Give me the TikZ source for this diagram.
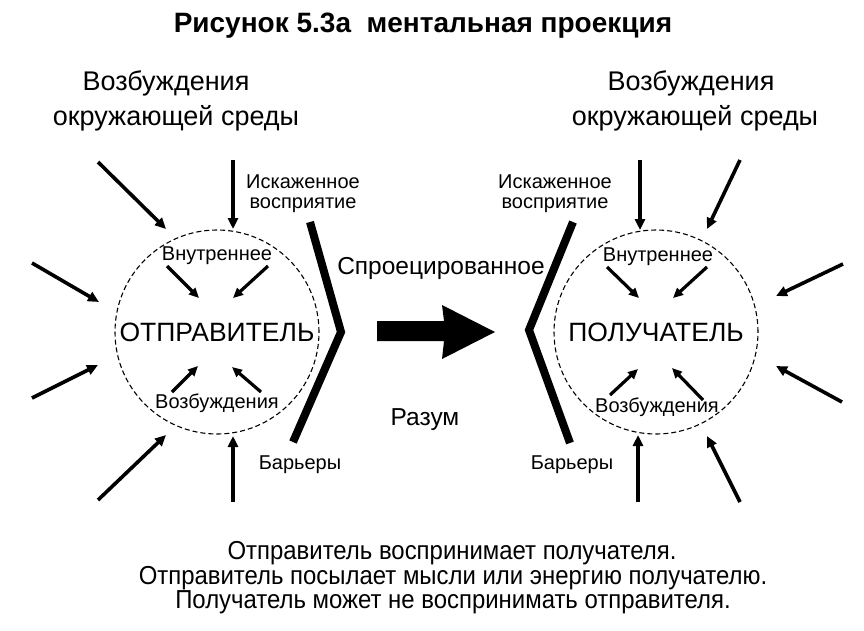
\documentclass[tikz,border=0pt]{standalone}
\usepackage{fontspec}
\setmainfont{Liberation Sans}
\newfontfamily\narrowfont[FakeStretch=0.92]{Liberation Sans}
\usetikzlibrary{arrows.meta}
\tikzset{
  arr/.style={line width=3.6pt, -{Triangle[length=11pt,width=10pt]}},
  inarr/.style={line width=3.2pt, -{Triangle[length=10pt,width=9pt]}},
  person/.style={circle, draw, dashed, dash pattern=on 5pt off 3pt, line width=1.1pt, minimum size=204pt, inner sep=0pt, font=\fontsize{26.5}{30}\selectfont},
  barrier/.style={line width=8pt, line join=miter, line cap=butt},
  env/.style={font=\fontsize{27}{30}\selectfont, inner sep=0pt},
  small/.style={font=\fontsize{20}{22}\selectfont, inner sep=0pt},
  mid/.style={font=\fontsize{24.5}{28}\selectfont, inner sep=0pt},
  note/.style={font=\narrowfont\fontsize{26}{28}\selectfont, inner sep=0pt},
}
\begin{document}
\begin{tikzpicture}[x=1pt,y=-1pt]
\useasboundingbox[fill=white] (0,0) rectangle (864,630);

% title
\node[font=\bfseries\fontsize{28}{32}\selectfont, inner sep=0pt] (title) at (423,26) {Рисунок 5.3а\ \ ментальная проекция};

% environment labels
\node[env] (envL1) at (166,83) {Возбуждения};
\node[env] (envL2) at (176,118) {окружающей среды};
\node[env] (envR1) at (691,83) {Возбуждения};
\node[env] (envR2) at (695,118) {окружающей среды};

% circles
\node[person] (snd) at (217,332) {ОТПРАВИТЕЛЬ};
\node[person] (rcv) at (656,332) {ПОЛУЧАТЕЛЬ};

% inner labels
\node[small] (inL) at (217,256) {Внутреннее};
\node[small] (exL) at (217,403) {Возбуждения};
\node[small] (inR) at (658,257) {Внутреннее};
\node[small] (exR) at (657,407) {Возбуждения};

% inner arrows left
\coordinate (a1s) at (167,266); \coordinate (a1e) at (199,298);
\coordinate (a2s) at (268,266); \coordinate (a2e) at (233,298);
\coordinate (a3s) at (172,392); \coordinate (a3e) at (198,366);
\coordinate (a4s) at (261,392); \coordinate (a4e) at (232,367);
\draw[inarr] (a1s) -- (a1e);
\draw[inarr] (a2s) -- (a2e);
\draw[inarr] (a3s) -- (a3e);
\draw[inarr] (a4s) -- (a4e);

% inner arrows right
\coordinate (b1s) at (607,267); \coordinate (b1e) at (639,298);
\coordinate (b2s) at (707,267); \coordinate (b2e) at (673,298);
\coordinate (b3s) at (610,395); \coordinate (b3e) at (638,369);
\coordinate (b4s) at (703,400); \coordinate (b4e) at (672,368);
\draw[inarr] (b1s) -- (b1e);
\draw[inarr] (b2s) -- (b2e);
\draw[inarr] (b3s) -- (b3e);
\draw[inarr] (b4s) -- (b4e);

% outer arrows left
\coordinate (l1s) at (98,162);  \coordinate (l1e) at (166,229);
\coordinate (l2s) at (233,160); \coordinate (l2e) at (233,229);
\coordinate (l3s) at (32,263);  \coordinate (l3e) at (99,302);
\coordinate (l4s) at (32,398);  \coordinate (l4e) at (98,365);
\coordinate (l5s) at (98,500);  \coordinate (l5e) at (166,435);
\coordinate (l6s) at (233,502); \coordinate (l6e) at (233,436);
\foreach \i in {1,...,6} \draw[arr] (l\i s) -- (l\i e);

% outer arrows right
\coordinate (r1s) at (640,160); \coordinate (r1e) at (640,230);
\coordinate (r2s) at (740,160); \coordinate (r2e) at (707,229);
\coordinate (r3s) at (843,264); \coordinate (r3e) at (776,296);
\coordinate (r4s) at (842,402); \coordinate (r4e) at (776,366);
\coordinate (r5s) at (740,502); \coordinate (r5e) at (707,436);
\coordinate (r6s) at (638,502); \coordinate (r6e) at (638,435);
\foreach \i in {1,...,6} \draw[arr] (r\i s) -- (r\i e);

% barriers
\coordinate (bl1) at (310,222); \coordinate (bl2) at (341,332); \coordinate (bl3) at (293,442);
\coordinate (br1) at (573,222); \coordinate (br2) at (529,330); \coordinate (br3) at (570,443);
\draw[barrier] (bl1) -- (bl2) -- (bl3);
\draw[barrier] (br1) -- (br2) -- (br3);

% barrier labels
\node[small, align=center] (distL) at (303,194) {Искаженное\\[-2pt]восприятие};
\node[small, align=center] (distR) at (555,194) {Искаженное\\[-2pt]восприятие};
\node[small] (barL) at (300,465) {Барьеры};
\node[small] (barR) at (572,465) {Барьеры};

% projection
\node[mid] (proj) at (441,268) {Спроецированное};
\node[mid] (mind) at (425,420) {Разум};
\fill (377,321) -- (444,321) -- (442,305) -- (495,332) -- (442,359) -- (444,341) -- (377,341) -- cycle;

% bottom notes
\node[note] (n1) at (452,553) {Отправитель воспринимает получателя.};
\node[note] (n2) at (453,578) {Отправитель посылает мысли или энергию получателю.};
\node[note] (n3) at (453,602) {Получатель может не воспринимать отправителя.};
\end{tikzpicture}
\end{document}
